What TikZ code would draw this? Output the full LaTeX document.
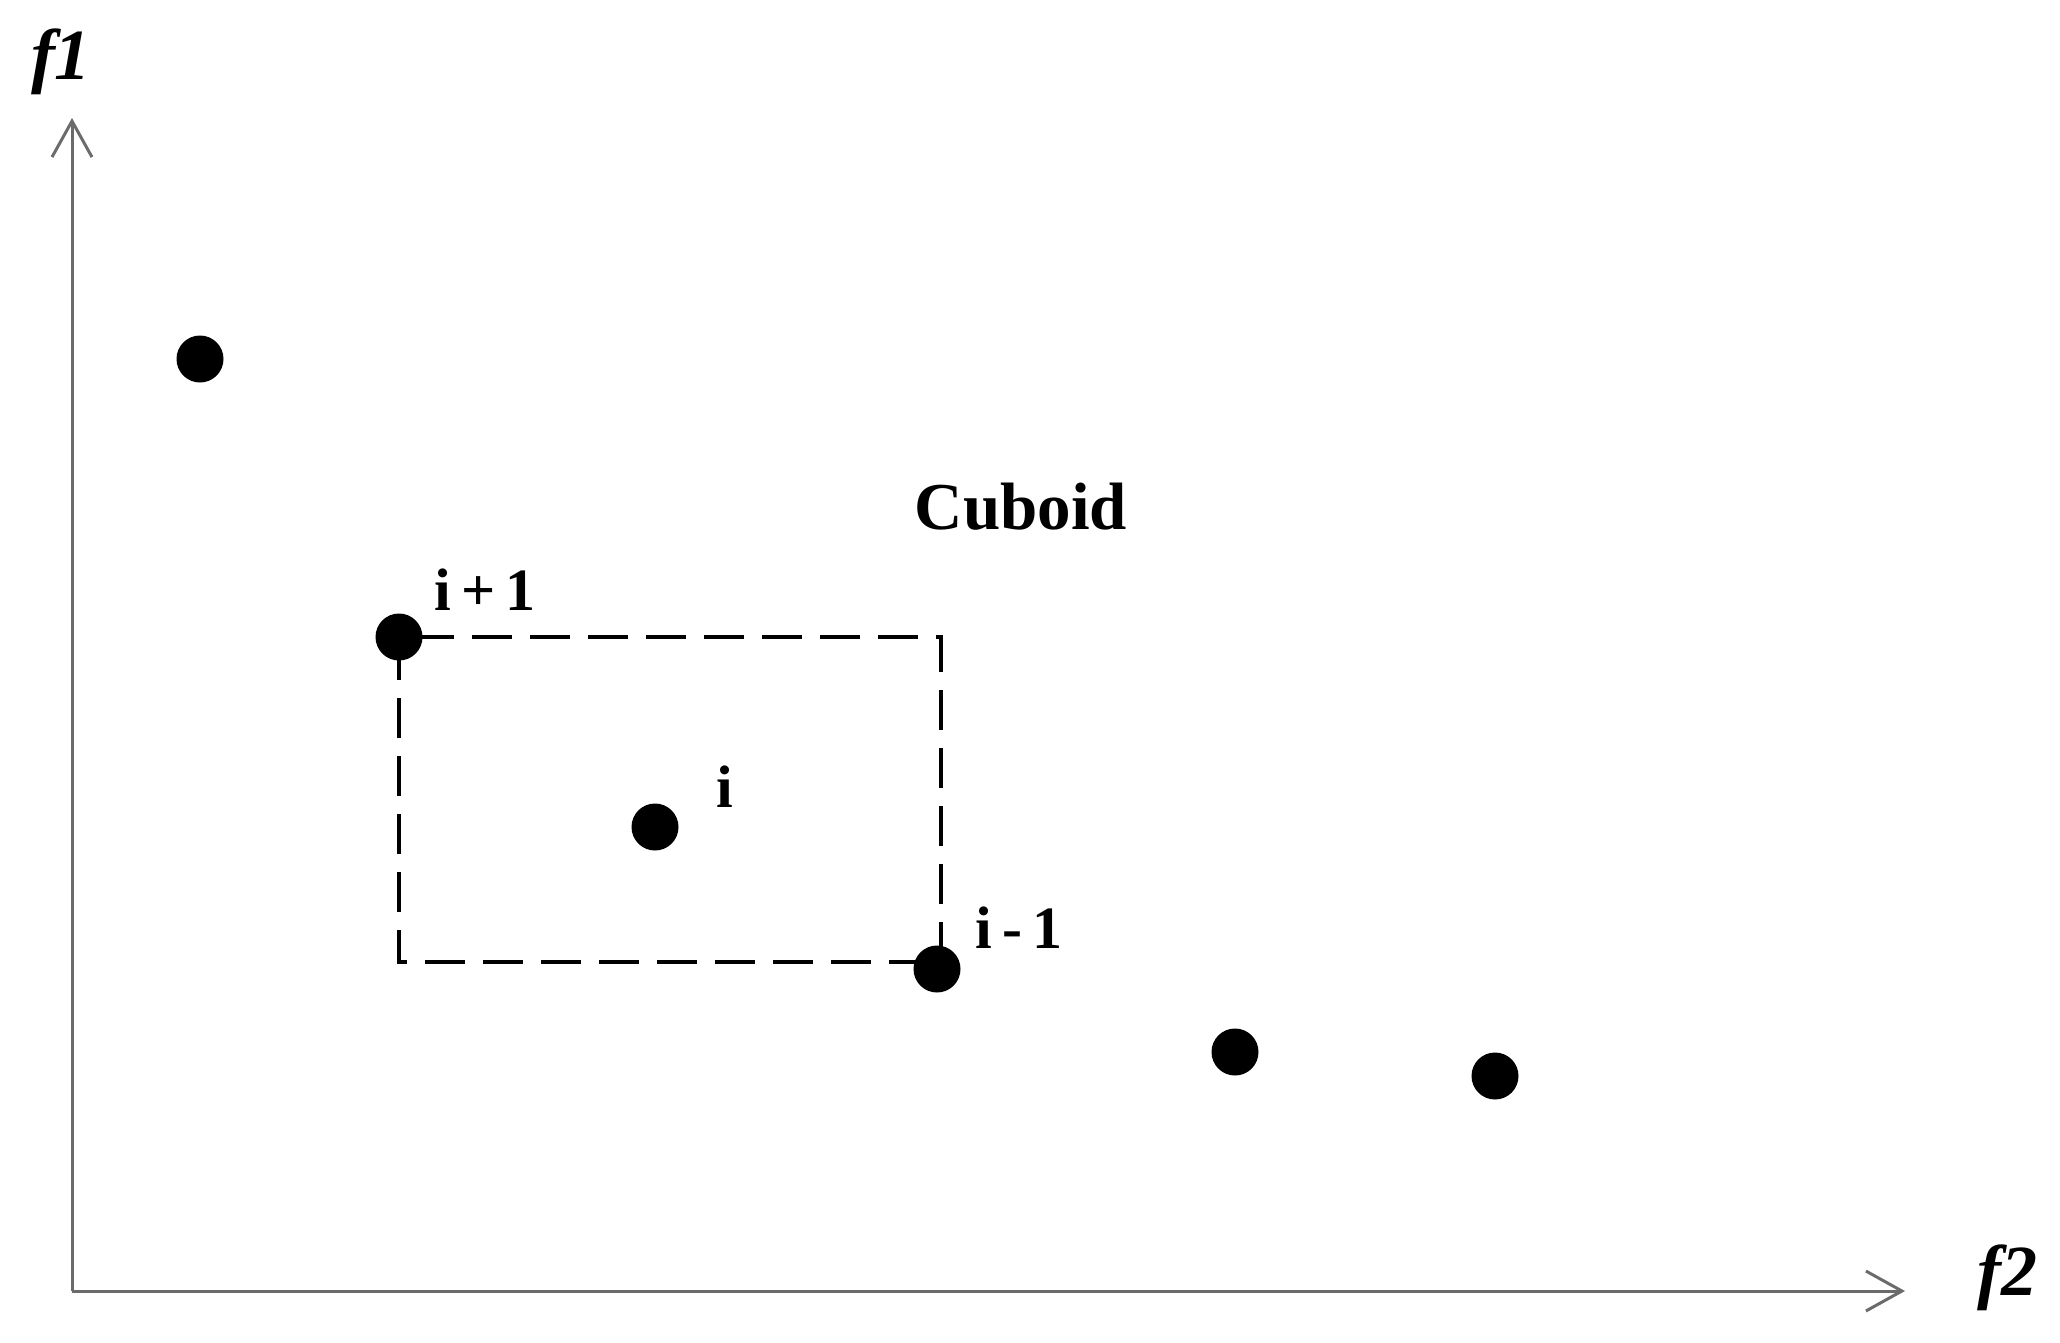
\documentclass[tikz,border=0pt]{standalone}
\usepackage{fontspec}
\setmainfont{Liberation Serif}
\usetikzlibrary{arrows.meta}
\begin{document}
\begin{tikzpicture}[x=1pt,y=-1pt,
  axis/.style={draw=black!58, line width=3pt, -{Straight Barb[length=36pt,width=40pt,line width=3pt]}},
  dot/.style={circle, fill=black, minimum size=47pt, inner sep=0pt},
  cube/.style={draw=black, line width=3.5pt, dash pattern=on 40pt off 18pt},
  lbl/.style={font=\fontsize{60}{60}\selectfont\bfseries, inner sep=0pt},
  axlbl/.style={font=\fontsize{72}{72}\selectfont\bfseries\itshape, inner sep=0pt}]
\useasboundingbox (0,0) rectangle (2060,1342);
\coordinate (O) at (72,1291);
\coordinate (Ytop) at (72,118);
\coordinate (Xend) at (1905,1291);
\draw[axis] (O) -- (Ytop);
\draw[axis] (O) -- (Xend);
\node[axlbl] (f1) at (61,62) {f1};
\node[axlbl] (f2) at (2007,1278) {f2};
% cuboid
\coordinate (c1) at (399,637);
\coordinate (c2) at (941,637);
\coordinate (c3) at (941,962);
\coordinate (c4) at (399,962);
\draw[cube] (c3) -- (c2) -- (c1) -- (c4) -- cycle;
\draw[cube, dash pattern=] (c4) -- ++(0,-6);
% dots
\node[dot] (p1) at (200,359) {};
\node[dot] (pip1) at (399,637) {};
\node[dot] (pi) at (655,827) {};
\node[dot] (pim1) at (937,969) {};
\node[dot] (p5) at (1235,1052) {};
\node[dot] (p6) at (1495,1076) {};
% labels
\node[lbl] (lip1) at (485,590) {i\,+\,1};
\node[lbl] (li) at (725,787) {i};
\node[lbl] (lim1) at (1019,928) {i\,-\,1};
\node[font=\fontsize{67}{67}\selectfont\bfseries, inner sep=0pt] (cub) at (1021,507) {Cuboid};
\end{tikzpicture}
\end{document}
